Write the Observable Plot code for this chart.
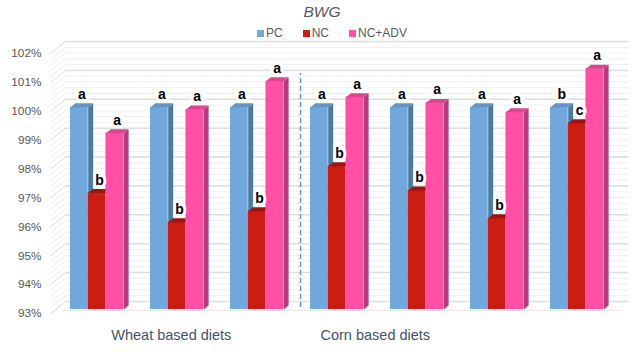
<!DOCTYPE html>
<html>
<head>
<meta charset="utf-8">
<script src="https://cdn.jsdelivr.net/npm/d3@7"></script>
<script src="https://cdn.jsdelivr.net/npm/@observablehq/plot@0.6"></script>
<style>
  body { margin: 0; background: #fff; font-family: "Liberation Sans", Arial, sans-serif; width: 640px; height: 354px; overflow: hidden; }
  #title { height: 18px; line-height: 18px; margin-top: 3px; text-align: center; padding-left: 4px; font-style: italic; font-size: 15.5px; color: #595959; }
  #legend { height: 14px; line-height: 14px; margin-top: 5px; display: flex; justify-content: center; padding-left: 24px; font-size: 12px; color: #595959; }
  #legend span.item { display: inline-flex; align-items: center; margin: 0 10px; }
  #legend span.sw { display: inline-block; width: 7px; height: 7px; margin-right: 2px; }
</style>
</head>
<body>
<div id="title"></div>
<div id="legend"></div>
<div id="chart"></div>
<script>
// ---- data ----
const title = "BWG";
const seriesNames = ["PC", "NC", "NC+ADV"];
const groupIdx = [0, 1, 2, 3, 4, 5, 6];
const pcValues = [100, 100, 100, 100, 100, 100, 100];
const ncValues = [97.03, 96.02, 96.4, 97.96, 97.12, 96.16, 99.45];
const ncAdvValues = [99.1, 99.92, 100.9, 100.35, 100.15, 99.83, 101.33];
const pcLetters = ["a", "a", "a", "a", "a", "a", "b"];
const ncLetters = ["b", "b", "b", "b", "b", "b", "c"];
const ncAdvLetters = ["a", "a", "a", "a", "a", "a", "a"];
const yTicks = [93, 94, 95, 96, 97, 98, 99, 100, 101, 102];
const dietLabels = ["Wheat based diets", "Corn based diets"];
const dietLabelPos = [1.26, 3.81];
const dividerPos = 2.875;

// ---- styles ----
const frontColors = ["#70a8db", "#cc1d12", "#ff50a6"];
const topColors = ["#5e94c6", "#9e150f", "#e0438f"];
const sideColors = ["#4b7aa2", "#a3170f", "#b53c7a"];

document.getElementById("title").textContent = title;
const legend = document.getElementById("legend");
seriesNames.forEach((n, i) => {
  const it = document.createElement("span"); it.className = "item";
  const sw = document.createElement("span"); sw.className = "sw"; sw.style.background = frontColors[i];
  it.appendChild(sw); it.appendChild(document.createTextNode(n));
  legend.appendChild(it);
});

// ---- geometry ----
const W = 640, H = 314, mL = 62, mR = 12, mT = 9, mB = 45;
const xDom = [-0.1, 6.975], yDom = [93, 102];
const xPerPx = (xDom[1] - xDom[0]) / (W - mL - mR);
const yPerPx = (yDom[1] - yDom[0]) / (H - mT - mB);
const barW = 17.7 * xPerPx;
const depX = 5 * xPerPx, depY = 4 * yPerPx;      // bar depth
const wallX = 3 * xPerPx, wallY = 8 * yPerPx;    // back wall offset
const base = yDom[0];

const allValues = [pcValues, ncValues, ncAdvValues];
const allLetters = [pcLetters, ncLetters, ncAdvLetters];

const fronts = [], tops = [], sides = [], labels = [];
allValues.forEach((vals, s) => {
  const fr = [], tp = [], sd = [];
  groupIdx.forEach((g, i) => {
    const x1 = g + s * barW, x2 = x1 + barW, v = vals[i];
    fr.push({x1, x2, v});
    const id = s + "-" + i;
    [[x1, v], [x1 + depX, v + depY], [x2 + depX, v + depY], [x2, v]].forEach(([x, y]) => tp.push({id, x, y}));
    [[x2, base], [x2, v], [x2 + depX, v + depY], [x2 + depX, base + depY]].forEach(([x, y]) => sd.push({id, x, y}));
    labels.push({x: (x1 + x2) / 2 + depX / 2, y: v, t: allLetters[s][i]});
  });
  fronts.push(fr); tops.push(tp); sides.push(sd);
});

const minor = d3.range(0, 46).map(k => 93 + k * 0.2);
const major = yTicks;

const marks = [];
// left wall diagonals
marks.push(Plot.link(minor, {x1: xDom[0] - 12 * xPerPx, y1: d => d - 4 * yPerPx, x2: xDom[0] + wallX, y2: d => d + wallY, stroke: "#ebebeb", strokeWidth: 1}));
// back wall gridlines
marks.push(Plot.ruleY(minor, {y: d => d + wallY, x1: xDom[0] + wallX, x2: xDom[1], stroke: "#efefef", strokeWidth: 1}));
marks.push(Plot.ruleY(major, {y: d => d + wallY, x1: xDom[0] + wallX, x2: xDom[1], stroke: "#dedede", strokeWidth: 1.5}));
marks.push(Plot.link(major, {x1: xDom[0] - 12 * xPerPx, y1: d => d - 4 * yPerPx, x2: xDom[0] + wallX, y2: d => d + wallY, stroke: "#e0e0e0", strokeWidth: 1}));
// floor front edge
marks.push(Plot.ruleY([base], {x1: xDom[0], x2: 6.9, stroke: "#e8e8e8", strokeWidth: 1, dy: 1}));
// divider
marks.push(Plot.ruleX([dividerPos], {y1: 93.07, y2: 101.17, stroke: "#5b9bd5", strokeWidth: 1.5, strokeDasharray: "5,3"}));
// bars
for (let s = 0; s < 3; s++) {
  marks.push(Plot.rect(fronts[s], {x1: "x1", x2: "x2", y1: base, y2: "v", fill: frontColors[s]}));
  marks.push(Plot.line(tops[s], {x: "x", y: "y", z: "id", fill: topColors[s], stroke: "none"}));
  marks.push(Plot.line(sides[s], {x: "x", y: "y", z: "id", fill: sideColors[s], stroke: "none"}));
}
// letters
marks.push(Plot.text(labels, {x: "x", y: "y", text: "t", dy: -13, fontSize: 14, fontWeight: "bold", fill: "#000", stroke: "white", strokeWidth: 6, strokeLinejoin: "miter"}));
// y tick labels
marks.push(Plot.text(yTicks, {x: xDom[0], y: d => d, text: d => d + "%", textAnchor: "end", dx: -21, dy: 4, fontSize: 11.8, fill: "#595959"}));
// diet labels
marks.push(Plot.text(dietLabels, {x: (d, i) => dietLabelPos[i], y: base, text: d => d, dy: 26, fontSize: 14.5, fill: "#44546a"}));

const chart = Plot.plot({
  width: W, height: H,
  marginLeft: mL, marginRight: mR, marginTop: mT, marginBottom: mB,
  x: {domain: xDom, axis: null},
  y: {domain: yDom, axis: null},
  style: {fontFamily: "'Liberation Sans', Arial, sans-serif", background: "transparent", overflow: "visible"},
  marks
});
document.getElementById("chart").appendChild(chart);
</script>
</body>
</html>
